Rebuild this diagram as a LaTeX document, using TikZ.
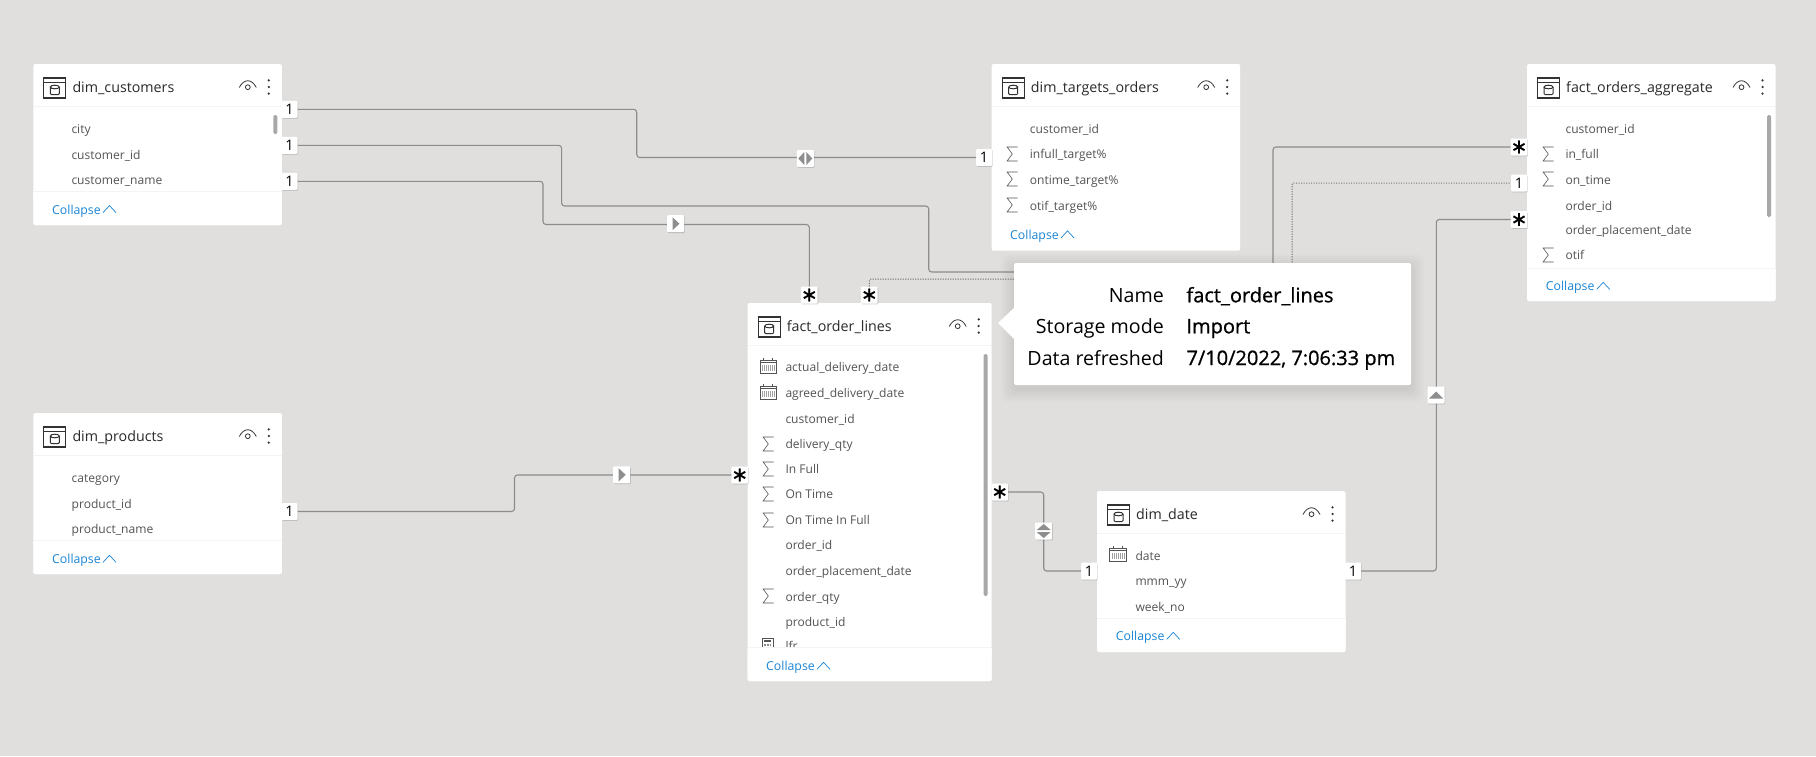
\documentclass[tikz,border=0pt]{standalone}
\usepackage{fontspec}
\setmainfont{Open Sans}
\newfontfamily\semib[FakeBold=0.8]{Open Sans}
\newfontfamily\symf[FakeBold=0.6]{DejaVu Sans}
\usetikzlibrary{shadows,calc}
\definecolor{bgc}{HTML}{E0DFDD}
\definecolor{linec}{HTML}{8C8C8C}
\definecolor{dotc}{HTML}{777777}
\definecolor{fieldc}{HTML}{555453}
\definecolor{titlec}{HTML}{2B2A29}
\definecolor{iconc}{HTML}{333231}
\definecolor{blue}{HTML}{1A85D6}
\definecolor{sepc}{HTML}{F4F4F4}
\definecolor{barc}{HTML}{A8A8A8}
\definecolor{trianglec}{HTML}{8E8E8E}
\tikzset{
  cardbox/.style={fill=white,rounded corners=2pt,inner sep=0pt,outer sep=0pt,anchor=north west},
  titletext/.style={anchor=base west,inner sep=0pt,text=titlec,font=\fontsize{14.25}{16}\selectfont},
  fieldtext/.style={anchor=base west,inner sep=0pt,text=fieldc,font=\fontsize{12.05}{15}\selectfont},
  collapsetext/.style={anchor=base west,inner sep=0pt,text=blue,font=\fontsize{12.3}{15}\selectfont},
  badge/.style={fill=white,rounded corners=1pt,inner sep=0pt,outer sep=0pt,minimum width=16pt,minimum height=17pt,
     drop shadow={shadow xshift=0.6pt,shadow yshift=-0.8pt,opacity=0.18,fill=black}},
  onebadge/.style={badge,text=black,font=\fontsize{14.5}{14.5}\selectfont},
  starbadge/.style={badge,text=black,font=\symf\fontsize{20}{20}\selectfont},
  relbadge/.style={badge,minimum width=17pt,minimum height=17pt},
  rel/.style={draw=linec,line width=1.1pt,rounded corners=3pt},
  reldot/.style={draw=dotc,line width=1pt,rounded corners=2pt,dash pattern=on 1.1pt off 1.4pt},
  tiplabel/.style={anchor=base east,inner sep=0pt,text=black,font=\fontsize{19.6}{22}\selectfont},
  tipvalue/.style={anchor=base west,inner sep=0pt,text=black,font=\semib\fontsize{20}{22}\selectfont},
}
\newcounter{fld}
\newcommand{\tablecard}[6][248.5]{% width, name, x, y, h, title
  \node[cardbox,minimum width=#1pt,minimum height=#5pt] (#2) at (#3,#4) {};
  \draw[sepc,line width=1pt] (#3,#4+42) -- (#3+#1,#4+42);
  \node[titletext] (#2title) at (#3+39,#4+28) {#6};
  \begin{scope}[shift={(#3+10.5,#4+14)}]
    \draw[iconc,line width=1.2pt] (0,0) rectangle (22,20);
    \draw[iconc,line width=0.8pt] (0,4.5) -- (22,4.5);
    \draw[iconc,line width=1pt,rounded corners=1pt] (6.5,9) -- (6.5,16.5) -- (15.5,16.5) -- (15.5,9);
    \draw[iconc,line width=1pt] (11,9) ellipse (4.5 and 1.8);
  \end{scope}
  \begin{scope}[shift={(#3+#1-34,#4+23)}]
    \draw[iconc,line width=0.8pt] (-8.5,0.5) .. controls (-4,-8.5) and (4,-8.5) .. (8.5,0.5);
    \draw[iconc,line width=0.8pt] (0,0.2) circle (2.4);
    \fill[iconc] (21,-6.6) circle (1.25) (21,0) circle (1.25) (21,6.6) circle (1.25);
  \end{scope}
}
\newcommand{\field}[3]{\stepcounter{fld}\node[fieldtext] (fld\arabic{fld}) at (#1,#2+4.5) {#3};}
\newcommand{\sumicon}[2]{%
  \draw[fieldc,line width=0.6pt] (#1+5.2,#2-7) -- (#1-5.2,#2-7) -- (#1,#2) -- (#1-5.2,#2+7) -- (#1+5.2,#2+7);}
\newcommand{\calicon}[2]{% centre
  \begin{scope}[shift={(#1,#2)}]
    \draw[fieldc,line width=0.6pt] (-8.3,-6) rectangle (8.3,7.6);
    \draw[fieldc,line width=0.7pt] (-8.3,-3.6) -- (8.3,-3.6);
    \draw[fieldc,line width=0.8pt] (-4.5,-8) -- (-4.5,-5) (4.5,-8) -- (4.5,-5);
    \draw[fieldc!55,line width=5.6pt,dash pattern=on 1pt off 1pt] (-6,2) -- (6.5,2);
  \end{scope}}
\newcommand{\calcicon}[2]{%
  \draw[fieldc,line width=0.8pt] (#1,#2) rectangle (#1+11,#2+16);
  \draw[fieldc,line width=1.4pt] (#1+2,#2+3) -- (#1+9,#2+3);
  \draw[fieldc!70,line width=1.4pt,dash pattern=on 1.5pt off 1.2pt] (#1+2,#2+7) -- (#1+9,#2+7);}
\newcommand{\sidebar}[3]{\fill[barc,rounded corners=1.5pt] (#1-2,#2) rectangle (#1+2,#3);}
\newcommand{\footline}[4][248.5]{% width, x, line y, bottom y : hides clipped rows
  \fill[white,rounded corners=2pt] (#2,#3) rectangle (#2+#1,#4);
  \fill[white] (#2,#3) rectangle (#2+#1,#3+4);
  \draw[sepc,line width=0.8pt] (#2,#3) -- (#2+#1,#3);}
\newcommand{\collapselink}[2]{\stepcounter{fld}%
  \node[collapsetext] (fld\arabic{fld}) at (#1,#2+5) {Collapse};
  \draw[blue,line width=0.7pt] (#1+51,#2+3.6) -- (#1+57.5,#2-3.4) -- (#1+64,#2+3.6);}
\begin{document}
\begin{tikzpicture}[x=1pt,y=-1pt]
\fill[bgc] (0,0) rectangle (1816,756);
\useasboundingbox (0,0) rectangle (1816,756);

% ---------- tables
\tablecard{customers}{33.3}{64}{161}{dim\_customers}
\field{71.3}{129}{city}
\field{71.3}{154.5}{customer\_id}
\field{71.3}{179.5}{customer\_name}
\footline{33.3}{191}{225}
\collapselink{52}{209}
\sidebar{275.3}{115}{134}

\tablecard{products}{33.3}{413}{161}{dim\_products}
\field{71.5}{477.7}{category}
\field{71.5}{503.7}{product\_id}
\field{71.5}{528.7}{product\_name}
\footline{33.3}{540}{574}
\collapselink{52}{558.7}

\tablecard{targets}{991.7}{64}{186.7}{dim\_targets\_orders}
\field{1029.7}{128.7}{customer\_id}
\sumicon{1012.3}{154}
\field{1029.7}{154.3}{infull\_target\%}
\sumicon{1012.3}{179}
\field{1029.7}{179.7}{ontime\_target\%}
\sumicon{1012.3}{205}
\field{1029.7}{205.7}{otif\_target\%}
\collapselink{1010}{234.3}

\tablecard{aggregate}{1527}{64}{237}{fact\_orders\_aggregate}
\field{1565.3}{128.7}{customer\_id}
\sumicon{1548.3}{154}
\field{1565.3}{154.3}{in\_full}
\sumicon{1548.3}{179}
\field{1565.3}{179.7}{on\_time}
\field{1565.3}{205.7}{order\_id}
\field{1565.3}{230.3}{order\_placement\_date}
\sumicon{1548.3}{255}
\field{1565.3}{255.3}{otif}
\footline{1527}{268}{301}
\collapselink{1545.7}{285.7}
\sidebar{1769}{115}{217}

\tablecard{date}{1097}{491}{161}{dim\_date}
\calicon{1118}{554}
\field{1135.3}{555.7}{date}
\field{1135.3}{581}{mmm\_yy}
\field{1135.3}{606.7}{week\_no}
\footline{1097}{618}{652}
\collapselink{1115.7}{635.7}

\tablecard[244]{lines}{747.7}{303}{378}{fact\_order\_lines}
\calicon{768.3}{366}
\field{785.3}{367.3}{actual\_delivery\_date}
\calicon{768.3}{392}
\field{785.3}{393.3}{agreed\_delivery\_date}
\field{785.3}{418.7}{customer\_id}
\sumicon{768.3}{444}
\field{785.3}{444.3}{delivery\_qty}
\sumicon{768.3}{469}
\field{785.3}{469.3}{In Full}
\sumicon{768.3}{494}
\field{785.3}{494.3}{On Time}
\sumicon{768.3}{520}
\field{785.3}{520.3}{On Time In Full}
\field{785.3}{545.3}{order\_id}
\field{785.3}{571.3}{order\_placement\_date}
\sumicon{768.3}{596}
\field{785.3}{596.7}{order\_qty}
\field{785.3}{622.3}{product\_id}
\calcicon{762.3}{638}
\field{785.3}{645.7}{lfr}
\footline[244]{747.7}{647}{681}
\collapselink{766}{665.7}
\sidebar{985.7}{354}{596}

% ---------- waypoints
\coordinate (wa) at (636.7,157.5);
\coordinate (wb) at (561.6,206);
\coordinate (wc) at (928.7,272);
\coordinate (wd) at (1273,147);
\coordinate (we) at (543,224.5);
\coordinate (wf) at (1292,183);
\coordinate (wg) at (514.5,475);
\coordinate (wh) at (1043.7,571);
\coordinate (wi) at (1436.3,219.5);
\coordinate (wj) at (869.3,279);

% ---------- cardinality badges
\node[onebadge] (c1) at (289.5,109.3) {1};
\node[onebadge] (c2) at (289.5,145.3) {1};
\node[onebadge] (c3) at (289.5,181.3) {1};
\node[onebadge] (p1) at (289.5,511.5) {1};
\node[onebadge] (t1) at (984,157.5) {1};
\node[starbadge] (a1) at (1519,147) {∗};
\node[onebadge] (a2) at (1519,183) {1};
\node[starbadge] (a3) at (1519,219.5) {∗};
\node[starbadge] (l1) at (809.3,295) {∗};
\node[starbadge] (l2) at (869.3,295) {∗};
\node[starbadge] (l3) at (739.7,475) {∗};
\node[starbadge] (l4) at (999.7,492) {∗};
\node[onebadge] (d1) at (1089,571) {1};
\node[onebadge] (d2) at (1353,571) {1};

% ---------- connectors
\draw[rel] (c1.east) -| (wa) -- (wa -| t1.west);
\draw[rel] (c2.east) -| (wb) -| (wc) -| (wd) -- (a1.west);
\draw[rel] (c3.east) -| (we) -| (l1.north);
\draw[reldot] (l2.north) -- (wj) -| (wf) -- (a2.west);
\draw[rel] (p1.east) -| (wg) -- (l3.west);
\draw[rel] (l4.east) -| (wh) -- (d1.west);
\draw[rel] (d2.east) -| (wi) -- (a3.west);

% ---------- cross-filter badges
\node[relbadge] (m1) at (805.3,158.5) {};
\fill[trianglec] ($(m1)+(-1,-6.5)$) -- ($(m1)+(-7,0)$) -- ($(m1)+(-1,6.5)$) -- cycle;
\fill[trianglec] ($(m1)+(1,-6.5)$) -- ($(m1)+(7,0)$) -- ($(m1)+(1,6.5)$) -- cycle;
\node[relbadge] (m2) at (675.5,223.7) {};
\fill[trianglec] ($(m2)+(-3,-6.5)$) -- ($(m2)+(4,0)$) -- ($(m2)+(-3,6.5)$) -- cycle;
\node[relbadge] (m3) at (621.7,474.8) {};
\fill[trianglec] ($(m3)+(-3,-6.5)$) -- ($(m3)+(4,0)$) -- ($(m3)+(-3,6.5)$) -- cycle;
\node[relbadge] (m4) at (1043.7,531) {};
\fill[trianglec] ($(m4)+(-7,-1)$) -- ($(m4)+(0,-7)$) -- ($(m4)+(7,-1)$) -- cycle;
\fill[trianglec] ($(m4)+(-7,1)$) -- ($(m4)+(0,7)$) -- ($(m4)+(7,1)$) -- cycle;
\node[relbadge] (m5) at (1436,395) {};
\fill[trianglec] ($(m5)+(-7,3.5)$) -- ($(m5)+(0,-3.5)$) -- ($(m5)+(7,3.5)$) -- cycle;

% ---------- tooltip
\foreach \g in {13,11,9,7,5,3,1}{
  \fill[black,opacity=0.011,rounded corners=7pt] (1014-\g,263-\g+4) rectangle (1411+\g,385+\g+4);
}
\node[fill=white,rounded corners=2pt,inner sep=0pt,outer sep=0pt,anchor=north west,minimum width=397pt,minimum height=122pt] (tip) at (1014,263) {};
\fill[white] (1015,307) -- (998,323) -- (1015,340) -- cycle;
\node[tiplabel] (n1) at (1164,302.3) {Name};
\node[tiplabel] (n2) at (1164,333.3) {Storage mode};
\node[tiplabel] (n3) at (1164,365) {Data refreshed};
\node[tipvalue] (v1) at (1186.3,302.3) {fact\_order\_lines};
\node[tipvalue] (v2) at (1186.3,333.3) {Import};
\node[tipvalue] (v3) at (1186.3,365) {7/10/2022, 7:06:33 pm};
\end{tikzpicture}
\end{document}
